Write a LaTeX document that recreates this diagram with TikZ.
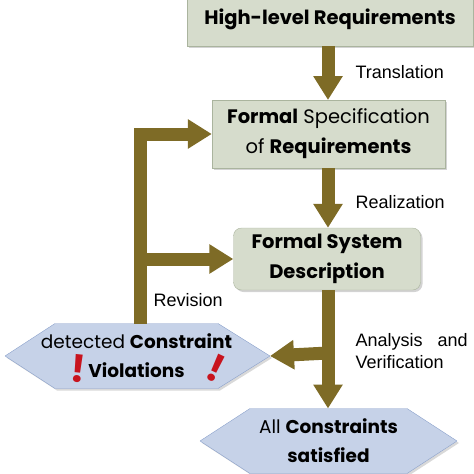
\documentclass[tikz,border=0pt]{standalone}
\usepackage{fontspec}
\setmainfont{Poppins}
\newfontfamily\lblfont{Liberation Sans}
\usetikzlibrary{positioning,arrows.meta,shadows,backgrounds}

\definecolor{flowcol}{RGB}{126,107,38}
\definecolor{boxfill}{RGB}{214,220,204}
\definecolor{boxline}{RGB}{170,180,158}
\definecolor{hexfill}{RGB}{198,210,232}
\definecolor{hexline}{RGB}{140,162,204}
\definecolor{alertcol}{RGB}{200,20,30}

\begin{document}
\begin{tikzpicture}[x=1pt,y=-1pt,font=\fontsize{19.5}{30}\selectfont,
  flow/.style={draw=flowcol,line width=13pt,-{Triangle[length=24pt,width=28pt]}},
  stage/.style={rectangle,draw=boxline,fill=boxfill,align=center,inner sep=0pt,
    drop shadow={opacity=0.35,shadow xshift=2pt,shadow yshift=-2pt}},
  hexbody/.style={rectangle,align=center,inner sep=0pt,font=\fontsize{18.5}{29}\selectfont},
  hexshape/.style={draw=hexline,fill=hexfill,line join=round,
    drop shadow={opacity=0.3,shadow xshift=2pt,shadow yshift=-2pt}},
  lbl/.style={font=\lblfont\fontsize{18}{22}\selectfont,align=left,anchor=west},
  alert/.style={text=alertcol,font=\fontsize{38}{38}\selectfont\bfseries}]
  \useasboundingbox (0,0) rectangle (474,474);
  \node[stage,minimum width=286pt,minimum height=54pt] (req) at (330,19) {\textbf{High-level Requirements}};
  \node[stage,minimum width=233pt,minimum height=68pt] (spec) at (328.5,134) {\textbf{Formal} Specification\\of \textbf{Requirements}};
  \node[stage,rounded corners=8pt,minimum width=187pt,minimum height=62pt] (desc) at (327,259) {\textbf{Formal System}\\\textbf{Description}};
  \node[hexbody] (viol) at (136.5,356) {detected \textbf{Constraint}\\\textbf{Violations}};
  \node[hexbody] (allok) at (328.5,441) {All \textbf{Constraints}\\\textbf{satisfied}};
  % hexagon outlines round the two outcomes
  \coordinate (violL) at ([xshift=-131.5pt]viol.center);
  \coordinate (violR) at ([xshift=133.5pt]viol.center);
  \coordinate (allokL) at ([xshift=-128.5pt]allok.center);
  \coordinate (allokR) at ([xshift=128.5pt]allok.center);
  \coordinate (allokT) at ([shift={(0,-32.5)}]allok.center);
  \begin{scope}[on background layer]
    \path[hexshape] ([shift={(-81.5,-32.5)}]viol.center) -- ([shift={(81.5,-32.5)}]viol.center) -- (violR)
      -- ([shift={(81.5,32.5)}]viol.center) -- ([shift={(-81.5,32.5)}]viol.center) -- (violL) -- cycle;
    \path[hexshape] ([shift={(-78.5,-32.5)}]allok.center) -- ([shift={(78.5,-32.5)}]allok.center) -- (allokR)
      -- ([shift={(78.5,32.5)}]allok.center) -- ([shift={(-78.5,32.5)}]allok.center) -- (allokL) -- cycle;
  \end{scope}
  \node[alert,rotate=-6] (ex1) at (78,369) {!};
  \node[alert,rotate=-25] (ex2) at (216,368) {!};
  \node[lbl] (tlab) at (352,72) {Translation};
  \node[lbl] (rlab) at (352,202) {Realization};
  \node[lbl] (alab) at (352,351) {Analysis \ \ and\\Verification};
  \node[lbl] (vlab) at (150,300) {Revision};
  \coordinate (split) at (328,353);
  \coordinate (revfoot) at (140,323.5);
  \draw[flow] (req.south -| 328,0) -- (328,100);
  \draw[flow] (spec.south -| 328,0) -- (desc.north -| 328,0);
  \draw[flow] (desc.south -| split) -- (allokT -| split);
  \draw[flow] (split) -- (violR);
  \draw[flow] (revfoot) |- (spec.west);
  \draw[flow] (revfoot |- desc.west) -- (desc.west);
\end{tikzpicture}
\end{document}
